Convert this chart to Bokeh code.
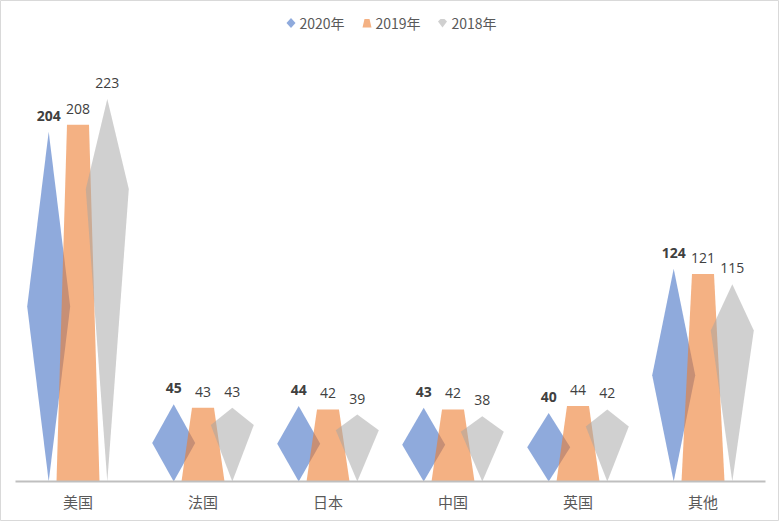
from bokeh.plotting import figure
from bokeh.models import Range1d, ColumnDataSource, LabelSet, Label
from bokeh.core.properties import value
from bokeh.embed import file_html
from bokeh.resources import INLINE

# Data
categories = ["美国", "法国", "日本", "中国", "英国", "其他"]
series_names = ["2020年", "2019年", "2018年"]
v2020 = [204, 45, 44, 43, 40, 124]
v2019 = [208, 43, 42, 42, 44, 121]
v2018 = [223, 43, 39, 38, 42, 115]

W, H = 779, 521
PX_X = 125.0      # pixels per category
PX_Y = 1.715      # pixels per unit
LEFT_PX = 15.0
BASE_PX = 481.0   # baseline, from top

FONT = "Noto Sans CJK SC"
NUM_FONT = "Open Sans"
BLUE, ORANGE, GREY = "#4472C4", "#ED7D31", "#A5A5A5"

x_start = -LEFT_PX / PX_X
x_end = (W - LEFT_PX) / PX_X
y_start = -(H - BASE_PX) / PX_Y
y_end = BASE_PX / PX_Y


def px_to_x(px):
    return x_start + px / PX_X


def px_to_y(py):
    return (BASE_PX - py) / PX_Y


p = figure(width=W, height=H, x_range=Range1d(x_start, x_end), y_range=Range1d(y_start, y_end),
           x_axis_type=None, y_axis_type=None, toolbar_location=None, output_backend="svg",
           min_border=0, outline_line_color="#D9D9D9", outline_line_width=1,
           background_fill_color="white", border_fill_color="white")
p.grid.visible = False

off = 29.3 / PX_X
hw = 21.5 / PX_X
top_hw = 11.0 / PX_X
centers = [i + 0.5 for i in range(len(categories))]

# 2020: diamonds
xs, ys = [], []
for c, v in zip(centers, v2020):
    cx = c - off
    xs.append([cx, cx + hw, cx, cx - hw])
    ys.append([0, v / 2, v, v / 2])
p.patches(xs, ys, fill_color=BLUE, fill_alpha=0.6, line_color=None)

# 2019: trapezoids
xs, ys = [], []
for c, v in zip(centers, v2019):
    xs.append([c - hw, c + hw, c + top_hw, c - top_hw])
    ys.append([0, 0, v, v])
p.patches(xs, ys, fill_color=ORANGE, fill_alpha=0.6, line_color=None)

# 2018: kites
xs, ys = [], []
for c, v in zip(centers, v2018):
    cx = c + off
    xs.append([cx, cx + hw, cx, cx - hw])
    ys.append([0, v * 0.765, v, v * 0.765])
p.patches(xs, ys, fill_color=GREY, fill_alpha=0.52, line_color=None)

# baseline
p.segment(x0=[0], y0=[0], x1=[len(categories)], y1=[0], line_color="#BFBFBF", line_width=2)

# value labels
def add_labels(dx, vals, bold):
    src = ColumnDataSource(dict(x=[c + dx for c in centers], y=vals, t=[str(v) for v in vals]))
    p.add_layout(LabelSet(x="x", y="y", text="t", source=src, y_offset=16,
                          text_align="center", text_baseline="middle",
                          text_font=value(NUM_FONT), text_font_size=value("14px"),
                          text_font_style=value("bold" if bold else "normal"),
                          text_color="#404040"))

add_labels(-off, v2020, True)
add_labels(0, v2019, False)
add_labels(off, v2018, False)

# category labels
csrc = ColumnDataSource(dict(x=centers, y=[0] * len(centers), t=categories))
p.add_layout(LabelSet(x="x", y="y", text="t", source=csrc, y_offset=-20,
                      text_align="center", text_baseline="middle",
                      text_font=value(FONT), text_font_size=value("15px"), text_color="#595959"))

# legend
leg_y = 22.5
icons = []
# diamond
ix = 290.5
icons.append(([ix, ix + 4.5, ix, ix - 4.5], [leg_y - 5, leg_y, leg_y + 5, leg_y]))
# trapezoid
ix = 366.5
icons.append(([ix - 4.5, ix - 2.5, ix + 2.5, ix + 4.5], [leg_y + 4.5, leg_y - 4, leg_y - 4, leg_y + 4.5]))
# shield
ix = 442
icons.append(([ix - 4.5, ix - 2, ix + 2, ix + 4.5, ix], [leg_y - 1.5, leg_y - 4, leg_y - 4, leg_y - 1.5, leg_y + 4.5]))
for (ixs, iys), col, a in zip(icons, [BLUE, ORANGE, GREY], [0.6, 0.6, 0.52]):
    p.patch([px_to_x(v) for v in ixs], [px_to_y(v) for v in iys], fill_color=col, fill_alpha=a, line_color=None)

for name, tx in zip(series_names, [299, 375, 451]):
    p.add_layout(Label(x=px_to_x(tx), y=px_to_y(leg_y), text=name, text_align="left",
                       text_baseline="middle", text_font=FONT, text_font_size="14px",
                       text_color="#595959"))

open("out.html", "w").write(file_html(p, INLINE))
